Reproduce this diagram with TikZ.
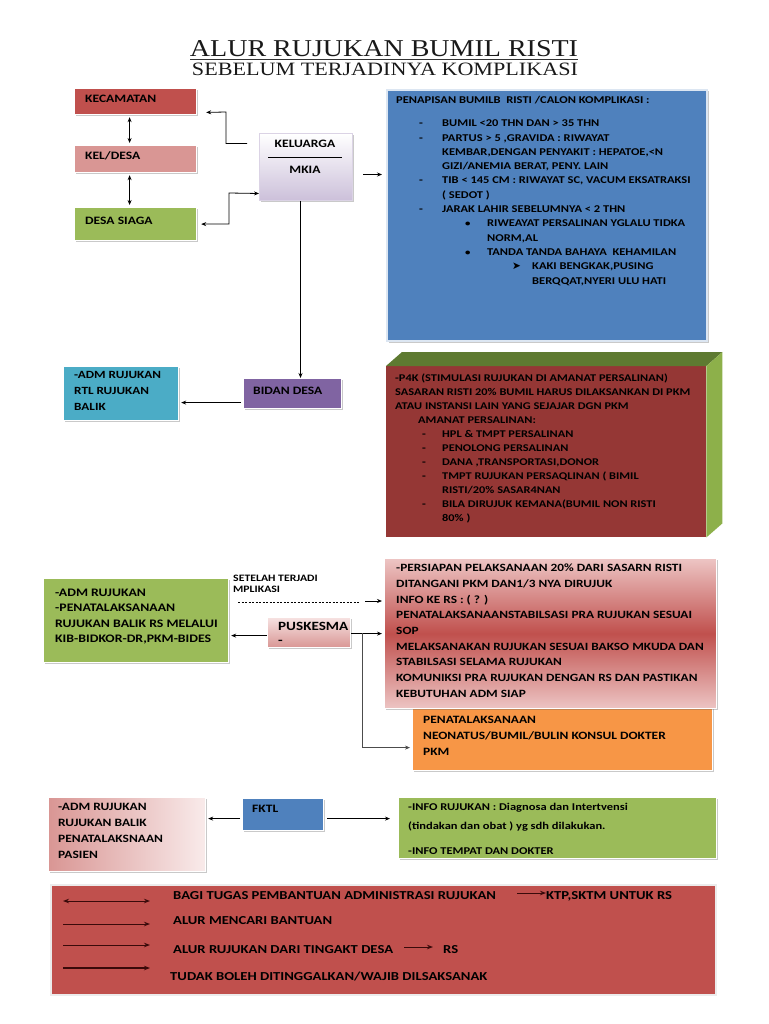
\documentclass[tikz,border=0pt]{standalone}
\usepackage{fontspec}
\setmainfont{Carlito}[FakeStretch=1.2]
\newfontfamily\titlefont{Liberation Serif}
\newfontfamily\symfont{DejaVu Sans}
\usetikzlibrary{arrows.meta,shadows}
\definecolor{ckec}{HTML}{C0504D}
\definecolor{ckel}{HTML}{D99694}
\definecolor{cgreen}{HTML}{9BBB59}
\definecolor{cblue}{HTML}{4F81BD}
\definecolor{cdred}{HTML}{953735}
\definecolor{cdgreen}{HTML}{5E7A31}
\definecolor{csgreen}{HTML}{8DB04A}
\definecolor{cteal}{HTML}{4BACC6}
\definecolor{cpurple}{HTML}{8064A2}
\definecolor{corange}{HTML}{F79646}
\definecolor{clav}{HTML}{CCC0DA}
\definecolor{cpinkl}{HTML}{EDC5C4}
\definecolor{clegarr}{HTML}{3A0A0A}
\newcommand\myst{\rule{0pt}{9pt}}
\tikzset{
  x=1pt, y=-1pt,
  box/.style={rectangle, anchor=north west, inner sep=0pt, draw=white, line width=1.2pt,
    drop shadow={shadow xshift=1.5pt, shadow yshift=-1.5pt, opacity=0.35, fill=black!60}},
  txt/.style={anchor=north west, inner sep=0pt, align=left, text=black,
    font=\bfseries\fontsize{11.3}{15}\selectfont},
  arr/.style={-{Stealth[length=5pt,width=4pt]}, line width=0.8pt},
  darr/.style={{Stealth[length=5pt,width=4pt]}-{Stealth[length=5pt,width=4pt]}, line width=0.8pt},
  legarr/.style={-{Stealth[length=6pt,width=4.5pt]}, line width=1pt, draw=clegarr},
  legtxt/.style={txt, font=\bfseries\fontsize{12.2}{13}\selectfont},
}
\begin{document}
\begin{tikzpicture}
\useasboundingbox[fill=white] (0,0) rectangle (768,1024);

% title
\node[anchor=base, inner sep=0pt, text=black!90] (title1) at (384,57) {\resizebox{388pt}{16pt}{\titlefont ALUR RUJUKAN BUMIL RISTI}};
\draw[line width=0.8pt, black!80] (190,59.5) -- (578,59.5);
\node[anchor=base, inner sep=0pt, text=black!90] (title2) at (385,76) {\resizebox{386pt}{12.5pt}{\titlefont SEBELUM TERJADINYA KOMPLIKASI}};

% left top boxes
\node[box, fill=ckec, minimum width=122pt, minimum height=26pt] (kec) at (74,88) {};
\node[txt] (kect) at (85,93.5) {\myst KECAMATAN};
\node[box, fill=ckel, minimum width=122pt, minimum height=27pt] (kel) at (74,145) {};
\node[txt] (kelt) at (85,150.5) {\myst KEL/DESA};
\node[box, fill=cgreen, minimum width=122pt, minimum height=33pt] (siaga) at (74,207) {};
\node[txt] (siagat) at (85,215.5) {\myst DESA SIAGA};

% keluarga
\node[box, top color=white, bottom color=clav, draw=clav!70!white, line width=1pt, minimum width=93pt, minimum height=67pt] (fam) at (259,133) {};
\node[anchor=base, inner sep=0pt, font=\bfseries\fontsize{11.3}{12}\selectfont] (famt1) at (305,147.5) {KELUARGA};
\draw[line width=0.6pt] (268,157) -- (342,157);
\node[anchor=base, inner sep=0pt, font=\bfseries\fontsize{11.3}{12}\selectfont] (famt2) at (305,173.5) {MKIA};

% blue box
\node[box, fill=cblue, draw=white!80!cblue, line width=2pt, minimum width=320pt, minimum height=251pt] (blue) at (386,89) {};
\node[txt, font=\bfseries\fontsize{10.4}{14.3}\selectfont] (bluet) at (396,94.5) {\myst PENAPISAN BUMILB\ \ RISTI /CALON KOMPLIKASI :\\[8.7pt]
\hspace*{23pt}\makebox[23pt][l]{-}BUMIL <20 THN DAN > 35 THN\\
\hspace*{23pt}\makebox[23pt][l]{-}PARTUS > 5 ,GRAVIDA : RIWAYAT\\
\hspace*{46pt}KEMBAR,DENGAN PENYAKIT : HEPATOE,<N\\
\hspace*{46pt}GIZI/ANEMIA BERAT, PENY. LAIN\\
\hspace*{23pt}\makebox[23pt][l]{-}TIB < 145 CM : RIWAYAT SC, VACUM EKSATRAKSI\\
\hspace*{46pt}( SEDOT )\\
\hspace*{23pt}\makebox[23pt][l]{-}JARAK LAHIR SEBELUMNYA < 2 THN\\
\hspace*{69pt}\makebox[22pt][l]{\fontsize{9}{9}\selectfont •}RIWEAYAT PERSALINAN YGLALU TIDKA\\
\hspace*{91pt}NORM,AL\\
\hspace*{69pt}\makebox[22pt][l]{\fontsize{9}{9}\selectfont •}TANDA TANDA BAHAYA\ \ KEHAMILAN\\
\hspace*{116pt}\makebox[20pt][l]{\symfont\fontsize{10.5}{10}\selectfont ➤}KAKI BENGKAK,PUSING\\
\hspace*{136pt}BERQQAT,NYERI ULU HATI};

% 3D red box
\node[rectangle, anchor=north west, inner sep=0pt, fill=cdred, minimum width=320pt, minimum height=171pt] (red) at (386,366) {};
\fill[cdgreen] (red.north west) -- ([shift={(16,-14)}]red.north west) -- ([shift={(16,-14)}]red.north east) -- (red.north east) -- cycle;
\fill[csgreen] (red.north east) -- ([shift={(16,-14)}]red.north east) -- ([shift={(16,-14)}]red.south east) -- (red.south east) -- cycle;
\node[txt, font=\bfseries\fontsize{10.3}{14}\selectfont] (redt) at (395,372) {\myst -P4K (STIMULASI RUJUKAN DI AMANAT PERSALINAN)\\
SASARAN RISTI 20\% BUMIL HARUS DILAKSANKAN DI PKM\\
ATAU INSTANSI LAIN YANG SEJAJAR DGN PKM\\
\hspace*{23pt}AMANAT PERSALINAN:\\
\hspace*{27pt}\makebox[20pt][l]{-}HPL \& TMPT PERSALINAN\\
\hspace*{27pt}\makebox[20pt][l]{-}PENOLONG PERSALINAN\\
\hspace*{27pt}\makebox[20pt][l]{-}DANA ,TRANSPORTASI,DONOR\\
\hspace*{27pt}\makebox[20pt][l]{-}TMPT RUJUKAN PERSAQLINAN ( BIMIL\\
\hspace*{47pt}RISTI/20\% SASAR4NAN\\
\hspace*{27pt}\makebox[20pt][l]{-}BILA DIRUJUK KEMANA(BUMIL NON RISTI\\
\hspace*{47pt}80\% )};

% bidan desa and adm rtl
\node[box, fill=cpurple, minimum width=98pt, minimum height=30pt] (bidan) at (243,378) {};
\node[txt] (bidant) at (253,385.5) {\myst BIDAN DESA};
\node[box, fill=cteal, minimum width=115pt, minimum height=54pt] (admrtl) at (63,366) {};
\node[txt, font=\bfseries\fontsize{11}{16}\selectfont] (admrtlt) at (74,369.5) {\myst -ADM RUJUKAN\\RTL RUJUKAN\\BALIK};

% setelah terjadi
\node[txt, font=\bfseries\fontsize{9.8}{11}\selectfont] (setelah) at (233,572) {\myst SETELAH TERJADI\\MPLIKASI};

% puskesmas block
\node[box, fill=cgreen, minimum width=185pt, minimum height=84pt] (admg) at (43,578) {};
\node[txt, font=\bfseries\fontsize{11.5}{15.2}\selectfont] (admgt) at (55,587.5) {\myst -ADM RUJUKAN\\-PENATALAKSANAAN\\RUJUKAN BALIK RS MELALUI\\KIB-BIDKOR-DR,PKM-BIDES};
\node[box, top color=cpinkl!50!white, bottom color=ckel, minimum width=83pt, minimum height=30pt] (pusk) at (267,617) {};
\node[txt, font=\bfseries\fontsize{12.6}{14}\selectfont] (puskt) at (278,621.5) {\myst PUSKESMA\\-};

\node[box, fill=corange, minimum width=300pt, minimum height=70pt] (orange) at (412,700) {};
\node[txt, font=\bfseries\fontsize{11.2}{16}\selectfont] (oranget) at (423,714.5) {\myst PENATALAKSANAAN\\NEONATUS/BUMIL/BULIN KONSUL DOKTER\\PKM};

\node[box, top color=cpinkl, bottom color=cpinkl, middle color=ckec, minimum width=332pt, minimum height=150pt] (pinkbig) at (384,558) {};
\node[txt, font=\bfseries\fontsize{11.1}{15.7}\selectfont] (pinkt) at (396,562.5) {\myst -PERSIAPAN PELAKSANAAN 20\% DARI SASARN RISTI\\
DITANGANI PKM DAN1/3 NYA DIRUJUK\\
INFO KE RS : ( ? )\\
PENATALAKSANAANSTABILSASI PRA RUJUKAN SESUAI\\
SOP\\
MELAKSANAKAN RUJUKAN SESUAI BAKSO MKUDA DAN\\
STABILSASI SELAMA RUJUKAN\\
KOMUNIKSI PRA RUJUKAN DENGAN RS DAN PASTIKAN\\
KEBUTUHAN ADM SIAP};

% FKTL row
\node[box, left color=ckel, right color=cpinkl!35!white, minimum width=157pt, minimum height=74pt] (admp) at (48,797) {};
\node[txt, font=\bfseries\fontsize{11.2}{16}\selectfont] (admpt) at (58,801.5) {\myst -ADM RUJUKAN\\RUJUKAN BALIK\\PENATALAKSNAAN\\PASIEN};
\node[box, fill=cblue, minimum width=81pt, minimum height=32pt] (fktl) at (242,798) {};
\node[txt] (fktlt) at (252,803.5) {\myst FKTL};
\node[box, fill=cgreen, minimum width=318pt, minimum height=61pt] (info) at (398,797) {};
\node[txt, font=\bfseries\fontsize{10.4}{19}\selectfont] (infot) at (408,801.5) {\myst -INFO RUJUKAN : Diagnosa dan Intertvensi\\(tindakan dan obat ) yg sdh dilakukan.\\[6pt]-INFO TEMPAT DAN DOKTER};

% legend
\node[box, fill=ckec, draw=white!85!gray, line width=1.5pt, minimum width=665pt, minimum height=110pt] (legend) at (50,884) {};
\node[legtxt] (leg1) at (173,890) {\myst BAGI TUGAS PEMBANTUAN ADMINISTRASI RUJUKAN};
\node[legtxt] (leg1b) at (546,890) {\myst KTP,SKTM UNTUK RS};
\node[legtxt] (leg2) at (173,915) {\myst ALUR MENCARI BANTUAN};
\node[legtxt] (leg3) at (173,944) {\myst ALUR RUJUKAN DARI TINGAKT DESA};
\node[legtxt] (leg3b) at (443,944) {\myst RS};
\node[legtxt] (leg4) at (170,971) {\myst TUDAK BOLEH DITINGGALKAN/WAJIB DILSAKSANAK};

% ---------- connectors ----------
\draw[darr] ([xshift=-6pt,yshift=-2pt]kec.south) -- ([xshift=-6pt,yshift=2pt]kel.north);
\draw[darr] ([xshift=-6pt,yshift=-2pt]kel.south) -- ([xshift=-6pt,yshift=2pt]siaga.north);
\coordinate (famw1) at ([yshift=23.5pt]fam.west);
\coordinate (kece) at ([yshift=-11pt]kec.east);
\draw[arr, shorten <=12pt, shorten >=9pt] (famw1) -| (226,112) -- (kece);
\coordinate (famw2) at ([yshift=-26.5pt]fam.west);
\draw[darr, shorten <=4pt] (siaga.east) -| (229,193) -- (famw2);
\coordinate (fame) at ([yshift=-7.5pt]fam.east);
\draw[arr, shorten <=10pt, shorten >=4pt] (fame) -- (fame -| blue.west);
\coordinate (famb) at ([xshift=-5.5pt]fam.south);
\draw[arr] (famb) -- (famb |- bidan.north);
\coordinate (bidw) at ([yshift=-9pt]bidan.west);
\draw[arr, shorten <=2pt, shorten >=2pt] (bidw) -- (bidw -| admrtl.east);
\coordinate (dash0) at (238,602);
\coordinate (dash1) at (360,602);
\draw[line width=0.5pt, dash pattern=on 2pt off 1.5pt] (dash0) -- (dash1);
\coordinate (dash2) at (365,601);
\draw[arr, shorten >=2pt] (dash2) -- (dash2 -| pinkbig.west);
\coordinate (puskw) at ([yshift=-3pt]pusk.west);
\draw[arr, shorten >=2pt] (puskw) -- (puskw -| admg.east);
\coordinate (puske) at ([yshift=-1pt]pusk.east);
\draw[arr, shorten >=2pt] (puske) -- (puske -| pinkbig.west);
\coordinate (branch) at (362,633);
\coordinate (orw) at ([yshift=-12pt]orange.west);
\draw[arr, line width=0.6pt, draw=black!70, shorten >=2pt] (branch) |- (orw);
\coordinate (fktlw) at ([yshift=-4pt]fktl.west);
\draw[arr, shorten <=2pt, shorten >=2pt] (fktlw) -- (fktlw -| admp.east);
\coordinate (fktle) at ([yshift=-4pt]fktl.east);
\draw[arr, shorten <=3pt, shorten >=8pt] (fktle) -- (fktle -| info.west);

% legend arrows
\coordinate (la1) at (63,901); \coordinate (lb1) at (150,901);
\draw[legarr, {Stealth[length=6pt,width=4.5pt]}-{Stealth[length=6pt,width=4.5pt]}] (la1) -- (lb1);
\coordinate (la2) at (63,924); \coordinate (lb2) at (150,924);
\draw[legarr] (la2) -- (lb2);
\coordinate (la3) at (63,945); \coordinate (lb3) at (150,945);
\draw[legarr] (la3) -- (lb3);
\coordinate (la4) at (63,968); \coordinate (lb4) at (150,968);
\draw[legarr, line width=1.6pt] (la4) -- (lb4);
\coordinate (lk1) at (517,893);
\draw[legarr] (lk1) -- (leg1b.west |- lk1);
\coordinate (lr1) at (404,947); \coordinate (lr2) at (433,947);
\draw[legarr] (lr1) -- (lr2);
\end{tikzpicture}
\end{document}
